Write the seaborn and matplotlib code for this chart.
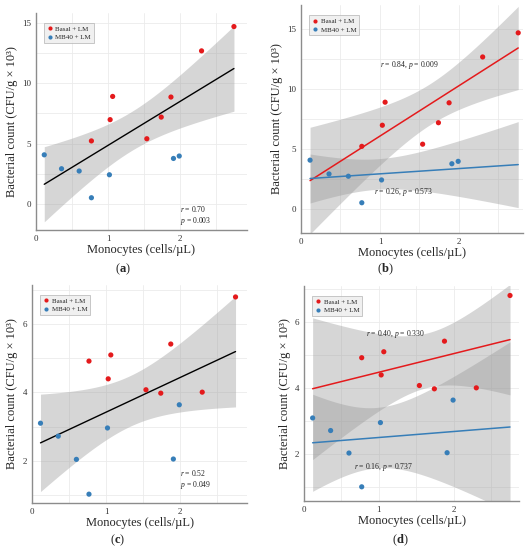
import numpy as np
import matplotlib.pyplot as plt
import pandas as pd
import seaborn as sns
from matplotlib.ticker import MultipleLocator

# values
monocytes_basal = [0.77, 1.03, 1.065, 1.54, 1.74, 1.875, 2.30, 2.75]
monocytes_mb40 = [0.115, 0.355, 0.60, 0.77, 1.02, 1.91, 1.99]
count_ab_basal = [5.22, 6.98, 8.9, 5.4, 7.19, 8.85, 12.67, 14.68]
count_ab_mb40 = [4.07, 2.92, 2.73, 0.52, 2.42, 3.77, 3.97]
count_cd_basal = [4.92, 4.40, 5.10, 4.08, 3.98, 5.42, 4.01, 6.80]
count_cd_mb40 = [3.10, 2.72, 2.04, 1.02, 2.96, 2.05, 3.64]
groups = ["Basal + LM", "MB40 + LM"]
colors = {"Basal + LM": "#e41a1c", "MB40 + LM": "#377eb8"}

# two-sided 95% t quantiles by degrees of freedom
t95 = {5: 2.5706, 6: 2.4469, 13: 2.1604}

sns.set_style("white")
plt.rcParams['font.family'] = ['Liberation Serif', 'DejaVu Serif']
plt.rcParams['mathtext.fontset'] = 'custom'
plt.rcParams['mathtext.rm'] = 'Liberation Serif'
plt.rcParams['mathtext.it'] = 'Liberation Serif:italic'
plt.rcParams['mathtext.bf'] = 'Liberation Serif:bold'


def make_df(basal, mb40):
    return pd.DataFrame({
        "monocytes": monocytes_basal + monocytes_mb40,
        "count": basal + mb40,
        "group": [groups[0]] * len(basal) + [groups[1]] * len(mb40),
    })


def ci_band(ax, x, y, lo, hi):
    # linear-model confidence band (like ggplot's geom_smooth(method = "lm"))
    x = np.asarray(x, float)
    y = np.asarray(y, float)
    n = len(x)
    slope, icpt = np.polyfit(x, y, 1)
    s = np.sqrt(np.sum((y - (slope * x + icpt)) ** 2) / (n - 2))
    sxx = np.sum((x - x.mean()) ** 2)
    grid = np.linspace(lo, hi, 120)
    fit = slope * grid + icpt
    se = s * np.sqrt(1 / n + (grid - x.mean()) ** 2 / sxx)
    ax.fill_between(grid, fit - t95[n - 2] * se, fit + t95[n - 2] * se,
                    color="#999999", alpha=0.4, lw=0, zorder=1)


def draw_panel(ax, df, split, xlim, ylim, major, notes):
    lo, hi = df.monocytes.min(), df.monocytes.max()
    if split:
        for g in groups:
            sub = df[df.group == g]
            # lines span the whole x range of both groups
            ax.set_xlim(lo, hi)
            sns.regplot(data=sub, x="monocytes", y="count", scatter=False,
                        truncate=False, ci=None, color=colors[g],
                        line_kws={"lw": 1.1, "zorder": 2}, ax=ax)
            ci_band(ax, sub.monocytes, sub["count"], lo, hi)
    else:
        sns.regplot(data=df, x="monocytes", y="count", scatter=False,
                    ci=None, color="black", line_kws={"lw": 1.0, "zorder": 2},
                    ax=ax)
        ci_band(ax, df.monocytes, df["count"], lo, hi)
    sns.scatterplot(data=df, x="monocytes", y="count", hue="group",
                    palette=colors, s=14, linewidth=0, ax=ax, zorder=3)
    ax.set_xlim(*xlim)
    ax.set_ylim(*ylim)
    ax.xaxis.set_major_locator(MultipleLocator(1))
    ax.xaxis.set_minor_locator(MultipleLocator(0.5))
    ax.yaxis.set_major_locator(MultipleLocator(major))
    ax.yaxis.set_minor_locator(MultipleLocator(major / 2))
    ax.grid(which="both", color="#ebebeb", lw=0.6)
    ax.set_axisbelow(True)
    for s in ["top", "right"]:
        ax.spines[s].set_visible(False)
    for s in ["left", "bottom"]:
        ax.spines[s].set_color("#8c8c8c")
        ax.spines[s].set_linewidth(1.0)
    ax.tick_params(which="major", labelsize=6.5, length=2, width=0.6,
                   color="#8c8c8c", labelcolor="#333333", pad=1.5)
    ax.tick_params(which="minor", length=0)
    ax.set_xlabel("Monocytes (cells/µL)", fontsize=9, labelpad=1)
    ax.set_ylabel("Bacterial count (CFU/g × 10³)", fontsize=9, labelpad=3)
    leg = ax.legend(loc="upper left", bbox_to_anchor=(0.02, 0.97), fontsize=5,
                    frameon=True, facecolor="#ededed", edgecolor="#b0b0b0",
                    fancybox=False, markerscale=0.8, handletextpad=0.2,
                    borderpad=0.4, labelspacing=0.4, handlelength=1.1)
    leg.get_frame().set_linewidth(0.6)
    for x, y, t, ha in notes:
        ax.text(x, y, t, fontsize=5.5, ha=ha, va="center", color="#222222",
                linespacing=1.1)


fig = plt.figure(figsize=(5.26, 5.5), dpi=100)
ax_a = fig.add_axes([0.0684, 0.5818, 0.401, 0.3945])
ax_b = fig.add_axes([0.5722, 0.5764, 0.422, 0.4145])
ax_c = fig.add_axes([0.0608, 0.086, 0.4095, 0.3958])
ax_d = fig.add_axes([0.578, 0.0896, 0.4087, 0.390])

df_ab = make_df(count_ab_basal, count_ab_mb40)
df_cd = make_df(count_cd_basal, count_cd_mb40)

draw_panel(ax_a, df_ab, False, (0, 2.93), (-2.15, 15.8), 5,
           [(2.0, -0.95, "$r$ = 0.70\n$p$ = 0.003", "left")])
draw_panel(ax_b, df_ab, True, (0, 2.81), (-2.0, 17.0), 5,
           [(1.38, 12.0, r"$r$ = 0.84, $p$ = 0.009", "center"),
            (1.29, 1.38, r"$r$ = 0.26, $p$ = 0.573", "center")])
draw_panel(ax_c, df_cd, False, (0, 2.91), (0.77, 7.15), 2,
           [(2.0, 1.46, "$r$ = 0.52\n$p$ = 0.049", "left")])
draw_panel(ax_d, df_cd, True, (0, 2.87), (0.6, 7.08), 2,
           [(1.22, 5.65, r"$r$ = 0.40, $p$ = 0.330", "center"),
            (1.06, 1.61, r"$r$ = 0.16, $p$ = 0.737", "center")])

for x, y, letter in [(123, 269, "a"), (385, 269, "b"),
                     (118, 540, "c"), (400, 540, "d")]:
    fig.text(x / 526, 1 - y / 550, r"($\mathbf{" + letter + "}$)",
             fontsize=9, ha="center", va="center")

fig.savefig("out.png", dpi=100)
